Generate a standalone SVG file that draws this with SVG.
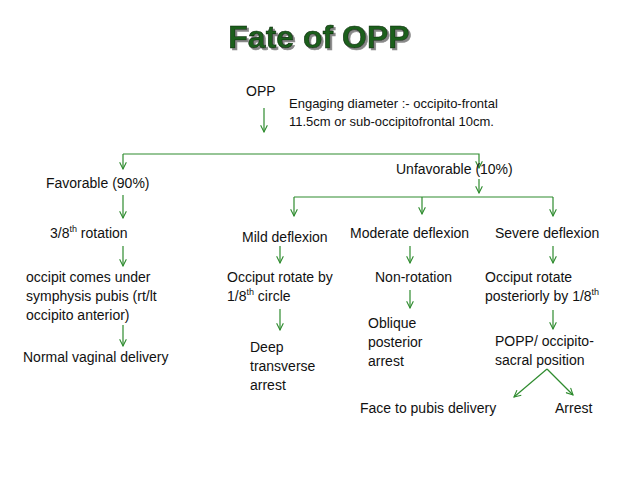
<svg xmlns="http://www.w3.org/2000/svg" width="638" height="479" viewBox="0 0 638 479">
<style>
text{font-family:"Liberation Sans",Arial,sans-serif;font-size:14px;fill:#111}
.t{font-size:32px;font-weight:bold;fill:#1b5e1b;stroke:#0a2a0a;stroke-width:0.6}
.s{font-size:13px}
#c line,#c polyline{stroke:#2e8b2e;stroke-width:1.2;fill:none}
</style>
<defs><marker id="a" viewBox="0 0 10 10" refX="9" refY="5" markerWidth="7" markerHeight="7" orient="auto"><path d="M1,1 L9,5 L1,9" fill="none" stroke="#2e8b2e" stroke-width="1.3"/></marker>
<filter id="sh" x="-10%" y="-20%" width="120%" height="150%"><feDropShadow dx="2" dy="2" stdDeviation="0.5" flood-color="#888"/></filter></defs>
<rect width="638" height="479" fill="#fff"/>
<text x="319" y="48" text-anchor="middle" class="t" filter="url(#sh)">Fate of OPP</text>
<g id="c">
<line x1="264" y1="108" x2="264" y2="132" marker-end="url(#a)"/>
<polyline points="123,154 479,154 479,168" marker-end="url(#a)"/>
<line x1="123" y1="154" x2="123" y2="169" marker-end="url(#a)"/>
<line x1="479" y1="179" x2="479" y2="193" marker-end="url(#a)"/>
<polyline points="294,197 553,197"/>
<line x1="294" y1="197" x2="294" y2="216" marker-end="url(#a)"/>
<line x1="422" y1="197" x2="422" y2="214" marker-end="url(#a)"/>
<line x1="553" y1="197" x2="553" y2="216" marker-end="url(#a)"/>
<line x1="123" y1="195" x2="123" y2="218" marker-end="url(#a)"/>
<line x1="123" y1="246" x2="123" y2="266" marker-end="url(#a)"/>
<line x1="280" y1="246" x2="280" y2="263" marker-end="url(#a)"/>
<line x1="410" y1="246" x2="410" y2="263" marker-end="url(#a)"/>
<line x1="553" y1="246" x2="553" y2="263" marker-end="url(#a)"/>
<line x1="123" y1="325" x2="123" y2="346" marker-end="url(#a)"/>
<line x1="280" y1="309" x2="280" y2="330" marker-end="url(#a)"/>
<line x1="410" y1="290" x2="410" y2="308" marker-end="url(#a)"/>
<line x1="553" y1="310" x2="553" y2="329" marker-end="url(#a)"/>
<line x1="547" y1="369" x2="514" y2="397" marker-end="url(#a)"/>
<line x1="547" y1="369" x2="573" y2="395" marker-end="url(#a)"/>
</g>
<g id="n0"><text x="246" y="96">OPP</text></g>
<g id="n1"><text x="289" y="108" class="s">Engaging diameter :- occipito-frontal</text><text x="289" y="126" class="s">11.5cm or sub-occipitofrontal 10cm.</text></g>
<g id="n2"><text x="46" y="188">Favorable (90%)</text></g>
<g id="n3"><text x="396" y="174">Unfavorable (10%)</text></g>
<g id="n4"><text x="50" y="238">3/8<tspan font-size="9" dy="-6">th</tspan><tspan dy="6"> rotation</tspan></text></g>
<g id="n5"><text x="242" y="242">Mild deflexion</text></g>
<g id="n6"><text x="350" y="238">Moderate deflexion</text></g>
<g id="n7"><text x="495" y="238">Severe deflexion</text></g>
<g id="n8"><text x="26" y="282">occipit comes under</text><text x="26" y="301">symphysis pubis (rt/lt</text><text x="26" y="320">occipito anterior)</text></g>
<g id="n9"><text x="227" y="282">Occiput rotate by</text><text x="227" y="301">1/8<tspan font-size="9" dy="-6">th</tspan><tspan dy="6"> circle</tspan></text></g>
<g id="n10"><text x="375" y="282">Non-rotation</text></g>
<g id="n11"><text x="485" y="282">Occiput rotate</text><text x="485" y="301">posteriorly by 1/8<tspan font-size="9" dy="-6">th</tspan></text></g>
<g id="n12"><text x="23" y="362">Normal vaginal delivery</text></g>
<g id="n13"><text x="250" y="352">Deep</text><text x="250" y="371">transverse</text><text x="250" y="390">arrest</text></g>
<g id="n14"><text x="368" y="328">Oblique</text><text x="368" y="347">posterior</text><text x="368" y="366">arrest</text></g>
<g id="n15"><text x="495" y="346">POPP/ occipito-</text><text x="495" y="365">sacral position</text></g>
<g id="n16"><text x="360" y="413">Face to pubis delivery</text></g>
<g id="n17"><text x="555" y="413">Arrest</text></g>
</svg>
